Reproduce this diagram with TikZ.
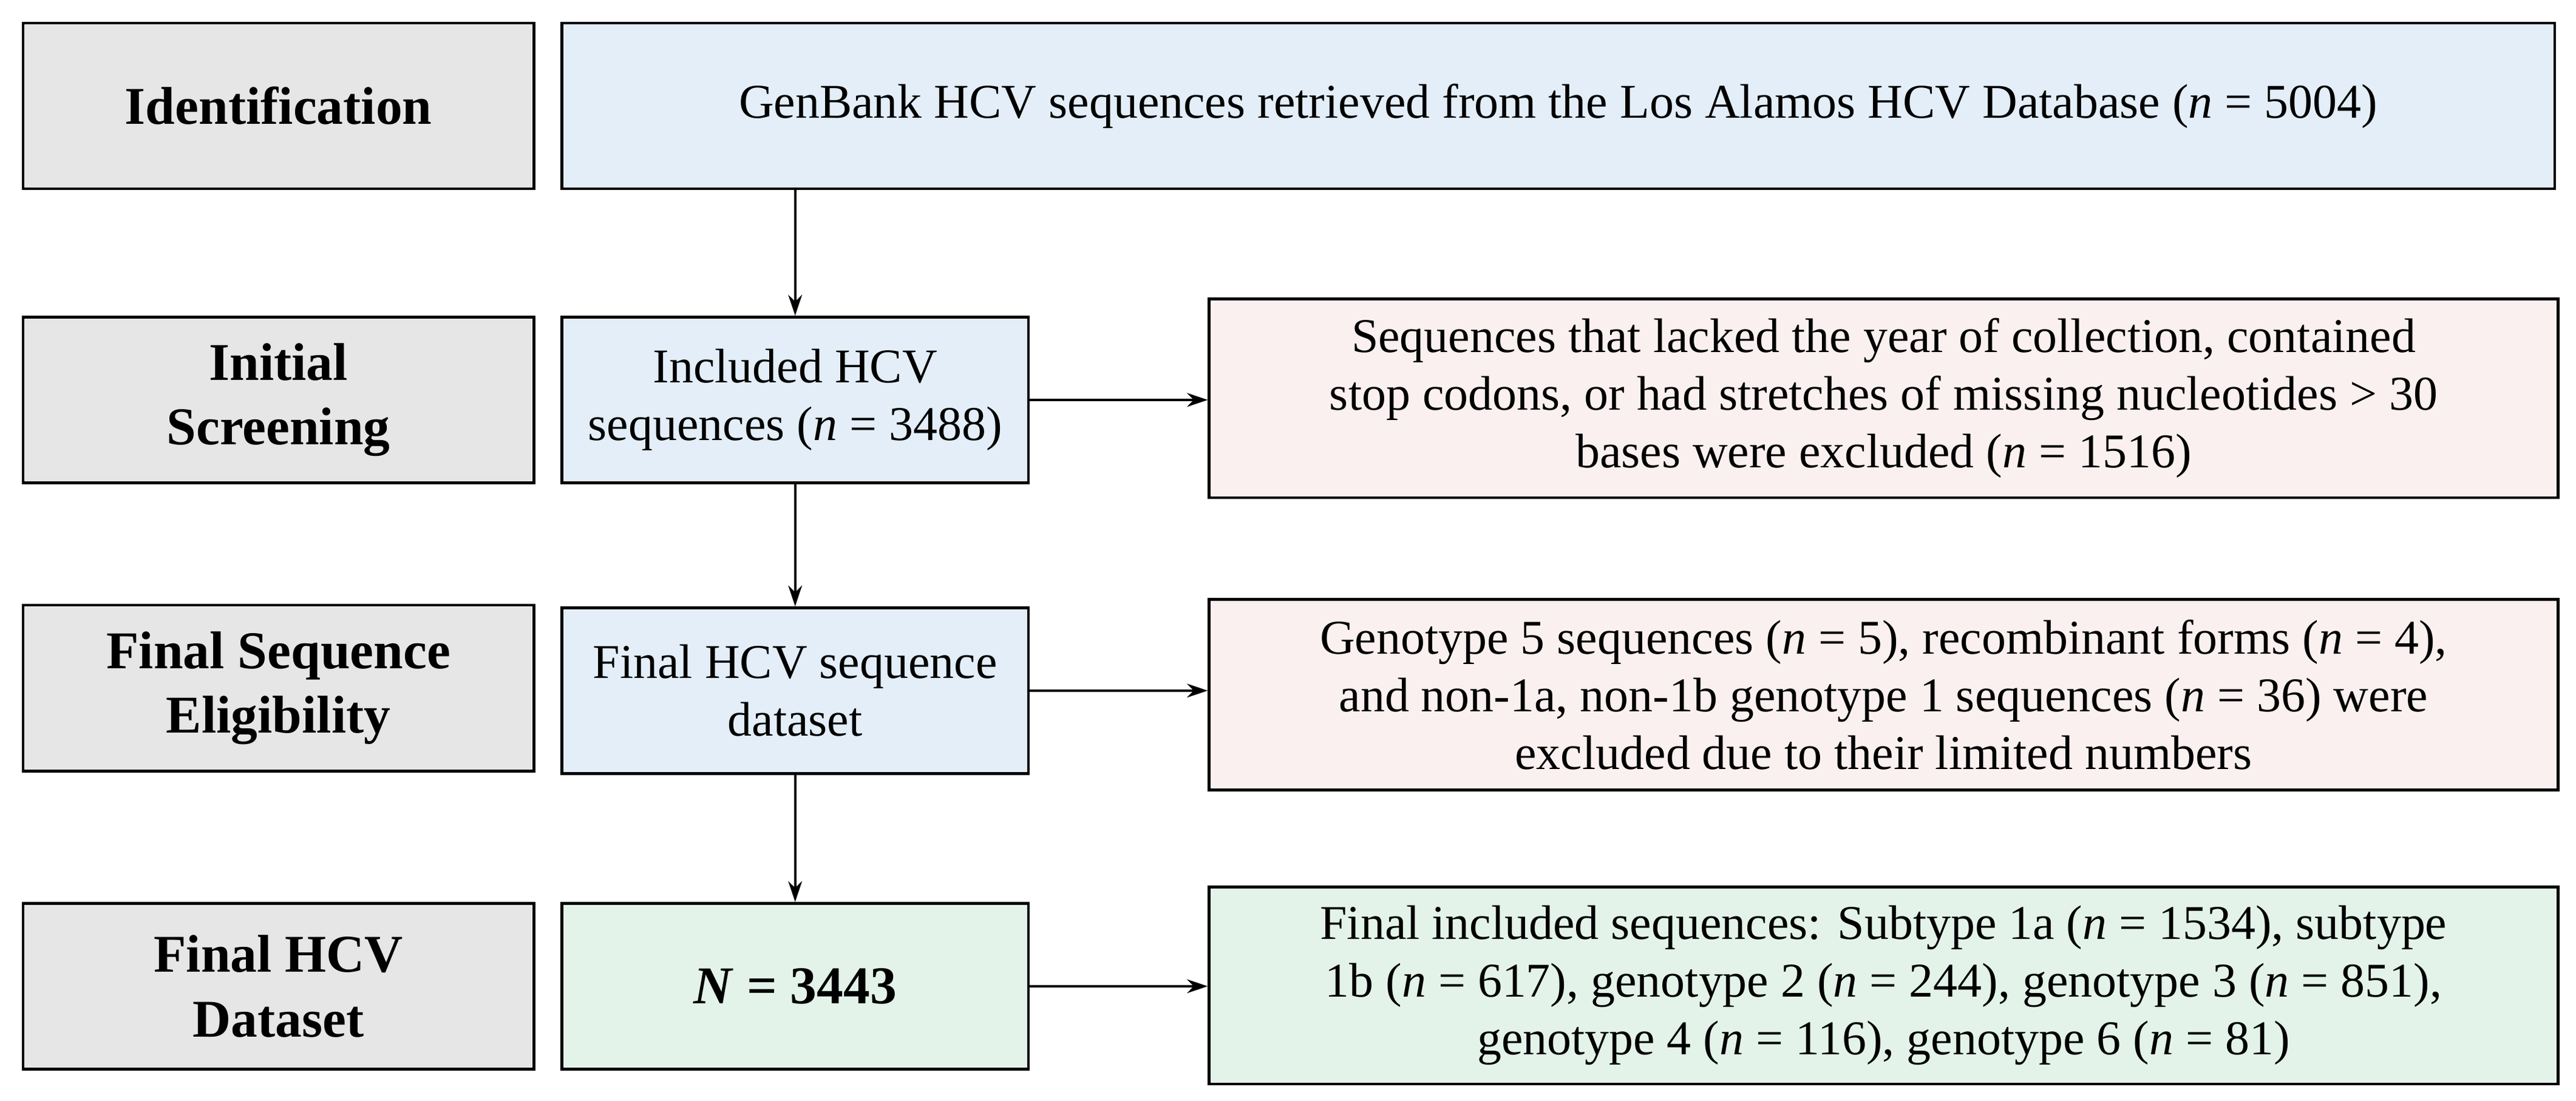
\documentclass[tikz,border=0pt]{standalone}
\usepackage{fontspec}
\setmainfont{Liberation Serif}
\usetikzlibrary{arrows.meta}
\definecolor{gr}{HTML}{E6E6E6}
\definecolor{bl}{HTML}{E3EEF8}
\definecolor{pk}{HTML}{FBF0F0}
\definecolor{gn}{HTML}{E3F3EA}
\begin{document}
\begin{tikzpicture}[x=0.025cm,y=-0.025cm,
 box/.style={draw=black,line width=1.2pt,inner sep=0pt,align=center,font=\fontsize{21}{25}\selectfont},
 lab/.style={box,fill=gr,minimum width=311*0.025cm,minimum height=101*0.025cm,font=\fontsize{23}{28}\selectfont\bfseries},
 mid/.style={box,minimum width=284*0.025cm,minimum height=101*0.025cm},
 rt/.style={box,minimum width=821*0.025cm},
 arr/.style={-{Stealth[length=9pt,width=6pt]},line width=1pt}]
\useasboundingbox (0,0) rectangle (1568,670);
\node[lab] (l1) at (169.5,64.5) {Identification};
\node[lab] (l2) at (169.5,243.5) {Initial\\Screening};
\node[lab] (l3) at (169.5,419) {Final Sequence\\Eligibility};
\node[lab] (l4) at (169.5,600.5) {Final HCV\\Dataset};
\node[box,fill=bl,minimum width=1213*0.025cm,minimum height=101*0.025cm] (top) at (948.5,64.5) {GenBank HCV sequences retrieved from the Los Alamos HCV Database (\textit{n} = 5004)};
\node[mid,fill=bl] (inc) at (484,243.5) {Included HCV\\sequences (\textit{n} = 3488)};
\node[mid,fill=bl] (fin) at (484,420.5) {Final HCV sequence\\dataset};
\node[mid,fill=gn,font=\fontsize{23}{28}\selectfont\bfseries] (N) at (484,600.5) {\textit{N} = 3443};
\node[rt,fill=pk,minimum height=121*0.025cm] (p1) at (1146.5,242.5) {Sequences that lacked the year of collection, contained\\stop codons, or had stretches of missing nucleotides > 30\\bases were excluded (\textit{n} = 1516)};
\node[rt,fill=pk,minimum height=116*0.025cm] (p2) at (1146.5,423) {Genotype 5 sequences (\textit{n} = 5), recombinant forms (\textit{n} = 4),\\and non-1a, non-1b genotype 1 sequences (\textit{n} = 36) were\\excluded due to their limited numbers};
\node[rt,fill=gn,minimum height=120*0.025cm] (g) at (1146.5,600) {Final included sequences: Subtype 1a (\textit{n} = 1534), subtype\\1b (\textit{n} = 617), genotype 2 (\textit{n} = 244), genotype 3 (\textit{n} = 851),\\genotype 4 (\textit{n} = 116), genotype 6 (\textit{n} = 81)};
\draw[arr] (top.south -| inc.north) -- (inc.north);
\draw[arr] (inc) -- (fin);
\draw[arr] (fin) -- (N);
\draw[arr] (inc.east) -- (inc.east -| p1.west);
\draw[arr] (fin.east) -- (fin.east -| p2.west);
\draw[arr] (N.east) -- (N.east -| g.west);
\end{tikzpicture}
\end{document}
